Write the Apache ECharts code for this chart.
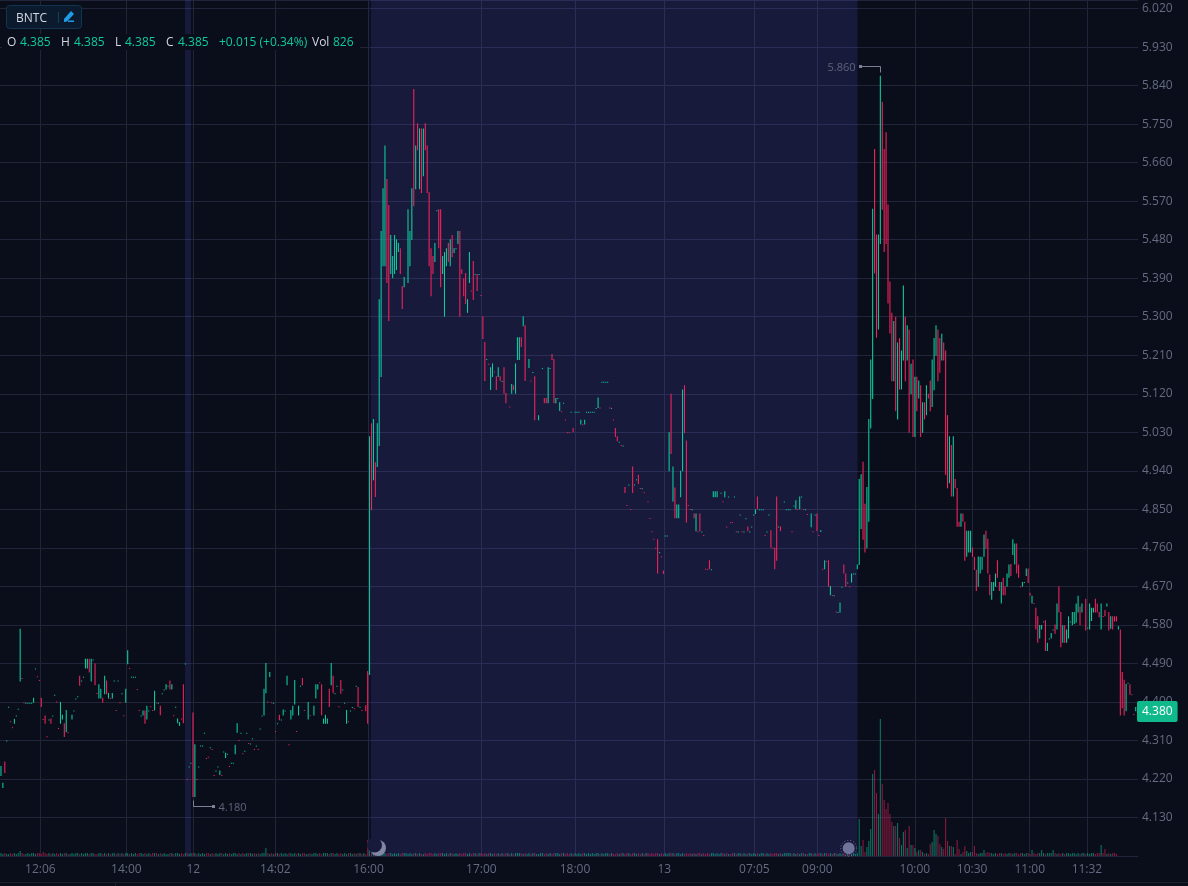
<!DOCTYPE html>
<html>
<head>
<meta charset="utf-8">
<title>BNTC</title>
<script src="https://cdn.jsdelivr.net/npm/echarts@6/dist/echarts.min.js"></script>
<style>
html, body { margin: 0; padding: 0; background: #0a0d1a; }
#chart { width: 1188px; height: 886px; }
</style>
</head>
<body>
<div id="chart"></div>
<script>
// bars are [bar number, open, close], open above close means a falling bar
const dayOneBars = [
  [0,4.227,4.25],[1,4.199,4.211],[2,4.261,4.234],[3,4.31,4.31],[4,4.389,4.389],[5,4.355,4.354],[6,4.341,4.34],[7,4.349,4.36],
  [8,4.368,4.368],[9,4.384,4.384],[10,4.448,4.571],[11,4.456,4.455],[12,4.399,4.398],[13,4.398,4.398],[14,4.398,4.398],[15,4.398,4.398],
  [16,4.398,4.398],[17,4.398,4.41],[18,4.478,4.478],[19,4.46,4.459],[20,4.451,4.45],[21,4.41,4.388],[22,4.36,4.359],[23,4.368,4.349],
  [24,4.32,4.319],[25,4.359,4.359],[26,4.361,4.349],[27,4.368,4.368],[28,4.417,4.417],[29,4.401,4.4],[30,4.339,4.338],[31,4.349,4.4],
  [32,4.359,4.37],[33,4.35,4.318],[34,4.329,4.381],[35,4.329,4.328],[37,4.359,4.37],[38,4.38,4.38],[39,4.408,4.408],[40,4.413,4.413],
  [41,4.461,4.438],[42,4.45,4.45],[43,4.459,4.459],[44,4.478,4.501],[45,4.478,4.501],[46,4.501,4.469],[47,4.448,4.501],[48,4.499,4.499],
  [49,4.49,4.439],[50,4.421,4.42],[51,4.408,4.441],[52,4.408,4.431],[53,4.41,4.398],[54,4.418,4.461],[55,4.45,4.418],[56,4.408,4.421],
  [57,4.409,4.408],[58,4.408,4.421],[59,4.45,4.45],[60,4.381,4.38],[61,4.45,4.45],[62,4.399,4.398],[63,4.42,4.42],[64,4.369,4.368],
  [65,4.398,4.431],[66,4.488,4.521],[67,4.479,4.478],[68,4.459,4.459],[69,4.459,4.459],[70,4.459,4.459],[71,4.43,4.429],[72,4.381,4.38],
  [73,4.368,4.368],[74,4.368,4.38],[75,4.38,4.349],[76,4.359,4.391],[77,4.38,4.38],[78,4.39,4.389],[79,4.381,4.38],[80,4.38,4.426],
  [81,4.399,4.398],[82,4.398,4.398],[83,4.391,4.369],[84,4.42,4.42],[85,4.429,4.429],[86,4.429,4.441],[87,4.438,4.438],[88,4.45,4.429],
  [89,4.429,4.441],[90,4.369,4.368],[91,4.389,4.389],[92,4.35,4.361],[93,4.344,4.353],[94,4.361,4.36],[95,4.441,4.35],[96,4.49,4.49],
  [97,4.22,4.219],[98,4.249,4.249],[99,4.258,4.258],[100,4.375,4.178],[101,4.178,4.301],[102,4.22,4.219],[103,4.249,4.249],[104,4.298,4.298],
  [105,4.298,4.298],[106,4.328,4.328],[107,4.269,4.268],[108,4.272,4.271],[109,4.294,4.294],[110,4.29,4.289],[111,4.229,4.228],[112,4.24,4.24],
  [113,4.249,4.249],[114,4.229,4.24],[115,4.229,4.228],[116,4.284,4.284],[117,4.269,4.281],[118,4.279,4.279],[119,4.25,4.249],[120,4.258,4.258],
  [121,4.258,4.258],[122,4.278,4.3],[123,4.328,4.35],[124,4.311,4.31],[125,4.328,4.328],[126,4.28,4.279],[127,4.286,4.286],[128,4.328,4.328],
  [129,4.304,4.303],[130,4.303,4.303],[131,4.315,4.315],[132,4.29,4.289],[133,4.298,4.298],[134,4.29,4.289],[135,4.338,4.338],[136,4.368,4.368],
  [137,4.368,4.431],[138,4.42,4.491],[139,4.401,4.4],[140,4.458,4.47],[141,4.399,4.398],[142,4.398,4.398],[143,4.332,4.331],[144,4.35,4.35],
  [145,4.37,4.357],[146,4.359,4.359],[147,4.368,4.382],[148,4.38,4.38],[149,4.439,4.461],[150,4.301,4.3],[151,4.359,4.381],[152,4.368,4.391],
  [153,4.394,4.451],[154,4.332,4.331],[155,4.368,4.391],[156,4.438,4.438],[157,4.456,4.439],[158,4.381,4.38],[160,4.359,4.4],[161,4.369,4.368],
  [163,4.368,4.391],[164,4.408,4.441],[165,4.429,4.441],[166,4.446,4.445],[167,4.441,4.369],[168,4.349,4.361],[169,4.349,4.37],[170,4.349,4.361],
  [171,4.431,4.388],[172,4.439,4.491],[173,4.461,4.42],[174,4.42,4.42],[175,4.438,4.438],[176,4.39,4.389],[177,4.451,4.419],[178,4.429,4.429],
  [179,4.398,4.398],[180,4.349,4.381],[181,4.355,4.354],[182,4.38,4.38],[183,4.388,4.388],[184,4.385,4.384],[185,4.438,4.438],[186,4.435,4.388],
  [187,4.389,4.389],[188,4.381,4.38],[190,4.392,4.378],[191,4.472,4.349]
];
const afterHoursBars = [
  [192,4.463,5.021],[193,5.051,4.848],[194,4.918,5.061],[195,4.96,4.879],[196,4.949,5.051],[197,4.998,5.341],[198,5.159,5.5],[199,5.418,5.6],
  [200,5.418,5.7],[201,5.622,5.379],[202,5.561,5.29],[203,5.4,5.491],[204,5.39,5.442],[205,5.4,5.491],[206,5.409,5.481],[207,5.451,5.472],
  [208,5.46,5.4],[209,5.372,5.318],[210,5.369,5.393],[212,5.379,5.551],[213,5.418,5.5],[214,5.479,5.6],[215,5.832,5.558],[216,5.598,5.7],
  [217,5.752,5.689],[218,5.598,5.74],[219,5.74,5.589],[220,5.628,5.74],[221,5.752,5.689],[222,5.7,5.589],[223,5.591,5.418],[224,5.46,5.348],
  [225,5.442,5.4],[226,5.428,5.472],[227,5.549,5.549],[228,5.551,5.46],[229,5.551,5.369],[230,5.4,5.442],[231,5.3,5.451],[232,5.418,5.46],
  [233,5.472,5.428],[234,5.418,5.481],[235,5.491,5.439],[236,5.449,5.46],[237,5.46,5.46],[238,5.47,5.5],[239,5.5,5.3],[240,5.411,5.4],
  [241,5.39,5.348],[242,5.402,5.33],[243,5.309,5.341],[244,5.379,5.451],[245,5.361,5.36],[246,5.43,5.339],[247,5.4,5.4],[248,5.4,5.36],
  [249,5.4,5.4],[250,5.351,5.35],[251,5.301,5.248],[252,5.241,5.15],[253,5.201,5.201],[254,5.19,5.189],[255,5.129,5.182],[256,5.159,5.191],
  [257,5.172,5.171],[258,5.161,5.129],[259,5.159,5.182],[260,5.161,5.15],[261,5.15,5.15],[262,5.182,5.12],[263,5.122,5.098],[265,5.09,5.089],
  [266,5.12,5.143],[267,5.14,5.129],[268,5.12,5.191],[269,5.199,5.252],[270,5.199,5.252],[271,5.252,5.229],[272,5.278,5.301],[273,5.28,5.15],
  [275,5.18,5.201],[276,5.151,5.15],[277,5.171,5.171],[278,5.161,5.058],[280,5.058,5.07],[282,5.18,5.18],[283,5.11,5.098],[284,5.11,5.098],
  [285,5.098,5.182],[286,5.18,5.18],[287,5.213,5.199],[288,5.201,5.098],[289,5.098,5.11],[290,5.11,5.11],[291,5.08,5.1],[292,5.079,5.078],
  [293,5.099,5.099],[294,5.06,5.059],[295,5.03,5.029],[296,5.03,5.029],[297,5.078,5.078],[298,5.04,5.03],[299,5.078,5.078],[300,5.078,5.078],
  [301,5.078,5.078],[302,5.048,5.059],[303,5.049,5.048],[304,5.048,5.059],[305,5.078,5.078],[306,5.078,5.078],[307,5.078,5.078],[308,5.078,5.078],
  [309,5.078,5.078],[310,5.087,5.087],[311,5.087,5.111],[312,5.088,5.087],[313,5.148,5.148],[314,5.148,5.148],[315,5.148,5.148],[316,5.148,5.148],
  [317,5.088,5.087],[318,5.087,5.087],[319,5.06,5.059],[320,5.04,5.019],[321,5.021,5.009],[322,5.008,5.008],[323,5,4.999],[324,4.999,4.999],
  [325,4.902,4.888],[326,4.86,4.859],[327,4.908,4.908],[328,4.851,4.85],[329,4.95,4.888],[330,4.908,4.908],[331,4.92,4.92],[332,4.931,4.909],
  [333,4.9,4.899],[334,4.899,4.899],[335,4.89,4.889],[337,4.869,4.868],[338,4.83,4.829],[339,4.799,4.798],[340,4.781,4.78],[341,4.76,4.759],
  [342,4.78,4.7],[343,4.75,4.75],[344,4.74,4.739],[345,4.707,4.699],[346,4.789,4.789],[347,4.789,4.789],[348,4.939,5.03],[349,5.12,4.979],
  [350,4.868,4.95],[351,4.901,4.829],[352,4.829,4.861],[353,4.829,4.861],[354,4.878,4.94],[355,4.939,5.13],[356,5.14,5.028],[357,5.011,4.819],
  [358,4.86,4.859],[359,4.851,4.85],[360,4.85,4.85],[361,4.84,4.829],[362,4.799,4.84],[363,4.799,4.798],[364,4.84,4.799],[365,4.798,4.798],
  [366,4.79,4.789],[367,4.711,4.71],[368,4.711,4.71],[369,4.731,4.71],[370,4.71,4.71],[371,4.878,4.892],[372,4.878,4.892],[373,4.878,4.892],
  [375,4.889,4.889],[376,4.869,4.868],[377,4.878,4.892],[378,4.81,4.809],[379,4.88,4.88],[380,4.82,4.819],[381,4.82,4.819],[382,4.88,4.88],
  [383,4.799,4.798],[384,4.798,4.798],[385,4.838,4.838],[386,4.799,4.798],[387,4.798,4.798],[388,4.829,4.829],[389,4.81,4.799],[390,4.798,4.798],
  [391,4.81,4.81],[392,4.838,4.838],[393,4.839,4.85],[394,4.88,4.85],[395,4.85,4.85],[396,4.85,4.85],[397,4.85,4.85],[398,4.79,4.789],
  [399,4.798,4.798],[400,4.838,4.838],[401,4.801,4.76],[402,4.76,4.759],[403,4.76,4.71],[404,4.88,4.73],[405,4.81,4.81],[406,4.81,4.799],
  [408,4.868,4.868],[409,4.85,4.85],[410,4.85,4.85],[411,4.85,4.85],[412,4.799,4.798],[413,4.859,4.859],[414,4.85,4.871],[415,4.851,4.85],
  [416,4.85,4.88],[417,4.88,4.88],[418,4.851,4.85],[419,4.85,4.85],[420,4.839,4.838],[422,4.808,4.84],[423,4.799,4.798],[424,4.838,4.838],
  [425,4.84,4.799],[426,4.79,4.789],[427,4.797,4.801],[428,4.711,4.71],[429,4.71,4.731],[430,4.729,4.728],[431,4.731,4.669],[432,4.649,4.671],
  [433,4.65,4.649],[434,4.649,4.649],[435,4.611,4.61],[436,4.61,4.61],[437,4.609,4.632],[438,4.669,4.669],[439,4.721,4.7],[440,4.7,4.669],
  [441,4.679,4.679],[442,4.67,4.669],[443,4.679,4.7],[444,4.7,4.7],[445,4.7,4.7],[446,4.71,4.721]
];
const dayTwoBars = [
  [447,4.72,4.921],[448,4.804,4.932],[449,4.961,4.779],[450,4.863,4.749],[451,4.759,4.902],[452,4.821,5.061],[453,5.039,5.2],[454,5.108,5.552],
  [455,5.692,5.401],[456,5.492,5.251],[457,5.27,5.492],[458,5.47,5.863],[459,5.802,5.55],[460,5.692,5.451],[461,5.731,5.47],[462,5.562,5.331],
  [463,5.382,5.261],[464,5.309,5.149],[465,5.149,5.29],[466,5.3,5.079],[467,5.06,5.24],[468,5.25,5.13],[469,5.13,5.221],[470,5.198,5.373],
  [471,5.3,5.149],[472,5.198,5.28],[473,5.27,5.029],[474,5.119,5.19],[475,5.2,5.019],[476,5.019,5.16],[477,5.16,5.079],[478,5.109,5.151],
  [479,5.14,5.019],[480,5.029,5.1],[481,5.1,5.06],[482,5.07,5.14],[483,5.12,5.109],[484,5.151,5.079],[485,5.089,5.2],[486,5.128,5.25],
  [487,5.209,5.28],[488,5.27,5.149],[489,5.25,5.169],[490,5.198,5.26],[491,5.24,5.198],[492,5.221,4.93],[493,5.07,4.899],[494,4.911,5.021],
  [495,5,4.88],[496,4.88,5.021],[497,4.921,4.899],[498,4.9,4.809],[499,4.821,4.809],[500,4.809,4.84],[501,4.84,4.821],[502,4.821,4.73],
  [503,4.739,4.8],[504,4.749,4.8],[505,4.749,4.8],[506,4.761,4.739],[507,4.739,4.708],[508,4.709,4.659],[509,4.669,4.74],[510,4.7,4.739],
  [511,4.709,4.739],[512,4.739,4.791],[513,4.8,4.758],[514,4.781,4.7],[515,4.698,4.649],[516,4.639,4.68],[517,4.659,4.68],[518,4.669,4.7],
  [519,4.731,4.69],[520,4.68,4.659],[521,4.63,4.68],[522,4.69,4.649],[523,4.67,4.649],[524,4.669,4.7],[525,4.69,4.721],[526,4.722,4.694],
  [527,4.743,4.78],[528,4.721,4.77],[529,4.77,4.7],[530,4.721,4.69],[531,4.67,4.669],[532,4.669,4.68],[533,4.68,4.68],[534,4.694,4.712],
  [535,4.712,4.678],[536,4.655,4.648],[537,4.63,4.648],[538,4.631,4.63],[539,4.62,4.569],[540,4.6,4.538],[541,4.548,4.58],[542,4.569,4.58],
  [543,4.588,4.588],[544,4.591,4.519],[545,4.519,4.538],[546,4.548,4.548],[547,4.548,4.561],[548,4.569,4.569],[549,4.581,4.559],[550,4.569,4.63],
  [551,4.67,4.609],[552,4.61,4.528],[553,4.538,4.579],[554,4.579,4.538],[555,4.538,4.569],[556,4.548,4.6],[557,4.588,4.588],[558,4.579,4.61],
  [559,4.582,4.61],[560,4.585,4.63],[561,4.609,4.648],[562,4.623,4.579],[563,4.609,4.63],[565,4.641,4.567],[566,4.574,4.574],[567,4.569,4.63],
  [568,4.589,4.62],[569,4.609,4.62],[570,4.641,4.609],[571,4.63,4.609],[572,4.61,4.598],[573,4.569,4.63],[574,4.601,4.6],[575,4.615,4.6],
  [576,4.623,4.63],[577,4.61,4.567],[578,4.571,4.6],[579,4.6,4.569],[580,4.6,4.588],[581,4.6,4.588],[582,4.569,4.577],[583,4.569,4.368],
  [584,4.47,4.385],[585,4.452,4.368],[586,4.378,4.442],[587,4.445,4.445],[588,4.441,4.417],[589,4.418,4.417],[590,4.372,4.371],[591,4.378,4.388]
];

// volume in lots, quietVolumes start at bar 0, activeVolumes at bar 447
const quietVolumes = [
  3,2,3,2,2,3,2,3,2,3, 5,3,2,2,3,2,3,3,2,3, 3,2,4,3,2,3,2,3,2,3, 2,3,2,3,3,2,2,3,2,3,
  3,2,3,2,3,3,2,3,3,2, 2,3,3,2,3,2,3,2,3,3, 2,3,2,3,2,3,3,2,3,2, 3,2,3,3,2,3,2,3,2,3,
  3,3,2,3,2,3,2,2,3,3, 2,3,3,2,3,2,3,3,2,3, 3,3,2,3,2,3,2,3,3,2, 3,2,3,2,3,3,2,3,2,3,
  2,3,3,2,3,2,3,2,3,3, 3,2,3,2,3,2,3,3,8,3, 2,3,2,3,3,2,3,2,3,2, 3,3,2,3,2,3,2,3,3,2,
  2,3,2,3,3,2,3,2,3,3, 3,2,3,3,2,3,2,3,2,3, 2,3,3,2,3,2,3,3,2,3, 2,16,8,3,2,3,3,2,3,2,
  3,2,3,3,2,3,2,3,2,3, 3,3,2,3,2,3,3,2,3,2, 2,3,2,3,3,2,3,2,3,3, 3,2,3,2,3,3,2,3,2,3,
  2,3,3,2,3,2,3,3,2,3, 3,2,3,2,3,3,2,3,2,3, 2,3,2,3,3,2,3,2,3,3, 3,3,2,3,2,3,2,3,3,2,
  2,3,3,2,3,2,3,2,3,3, 3,2,3,3,2,3,2,3,2,3, 2,3,2,3,3,2,3,2,3,2, 3,3,2,3,2,3,3,2,3,2,
  2,3,2,3,3,2,3,3,2,3, 3,2,3,2,3,2,3,3,2,3, 2,3,3,2,3,2,3,2,3,3, 3,2,3,3,2,3,2,3,2,3,
  2,3,2,3,3,2,3,2,3,2, 3,3,2,3,2,3,3,2,3,2, 2,3,3,2,3,3,2,3,2,3, 3,2,3,2,3,2,3,3,2,3,
  2,3,2,3,3,2,3,2,3,3, 3,3,2,3,2,3,2,3,3,2, 2,3,3,2,3,2,3,3,2,3, 3,2,3,2,3,3,2,3,2,3,
  2,3,3,2,3,2,3
];
const activeVolumes = [
  37,10,16,4,9,15,27,82,86,63, 42,137,72,56,47,53,42,34,30,30, 33,18,11,24,26,8,30,11,11,8,
  4,6,6,4,2,3,2,12,14,26, 22,20,12,9,7,38,15,10,10,9, 2,16,7,2,4,10,5,3,4,4,
  10,3,2,3,3,6,3,4,3,3, 2,3,2,3,3,2,3,2,3,3, 2,3,3,2,3,3,2,3,3,2,
  6,3,2,3,3,6,3,2,3,3, 3,6,3,2,3,2,3,2,3,3, 2,3,3,2,3,2,3,3,2,3, 2,3,3,2,3,3,11,3,7,2,
  3,2,3,3,2
];

const axisTop = 6.04;
const axisBottom = 4.04;
const priceStep = 0.09;
const tickBars = [20.5, 65.3, 100.2, 142.9, 191.4, 250.2, 299, 345.5, 392.4, 425.2, 476, 505.8, 535.8, 565.6];
const tickLabels = ['12:06', '14:00', '12', '14:02', '16:00', '17:00', '18:00', '13', '07:05', '09:00', '10:00', '10:30', '11:00', '11:32'];
const nightSpans = [[95.9, 99], [192.7, 446.1]];
const edgeSpans = [[191.2, 192.7]];
const lastPrice = 4.38;
const extremeBars = [100, 458];
const extremePrices = [4.18, 5.86];
const extremeLabels = ['4.180', '5.860'];

const upColor = '#0ecb9f';
const downColor = '#f0245f';
const bg = '#0a0d1a';
const gridColor = '#22253a';
const axisText = '#666b82';
const font = '12px "Open Sans"';

const allBars = dayOneBars.concat(afterHoursBars, dayTwoBars);
const barUp = {};
allBars.forEach(b => { barUp[b[0]] = b[2] >= b[1]; });
const volumeRows = quietVolumes.map((v, i) => [i, v]).concat(activeVolumes.map((v, i) => [447 + i, v]));

// one thin rect per bar, left on fractional pixels like the original
function renderBar(params, api) {
  const top = api.coord([api.value(0), Math.max(api.value(1), api.value(2))]);
  const bottom = api.coord([api.value(0), Math.min(api.value(1), api.value(2))]);
  const w = api.size([1, 0])[0] * 0.56;
  return {
    type: 'rect',
    shape: { x: top[0] - w / 2, y: top[1], width: w, height: Math.max(bottom[1] - top[1], 1) },
    style: { fill: api.value(2) >= api.value(1) ? upColor : downColor }
  };
}

function renderVolume(params, api) {
  const i = api.value(0);
  const top = api.coord([i, api.value(1)]);
  const base = api.coord([i, 0]);
  const w = api.size([1, 0])[0] * 0.56;
  return {
    type: 'rect',
    shape: { x: top[0] - w / 2, y: top[1], width: w, height: base[1] - top[1] },
    style: { fill: barUp[i] === false ? downColor : upColor, opacity: 0.55 }
  };
}

// little hook from the bar with the day's extreme to its price label
function renderExtreme(params, api) {
  const p = api.coord([api.value(0), api.value(1)]);
  const isLow = params.dataIndex === 0;
  const lineColor = '#7b8096';
  const x = Math.round(p[0]) + 0.5;
  const y = isLow ? Math.round(p[1]) + 10.5 : Math.round(p[1]) - 10.5;
  const endX = isLow ? x + 20 : x - 20;
  return {
    type: 'group',
    children: [
      { type: 'polyline', shape: { points: [[x, isLow ? y - 6 : y + 6], [x, y], [endX, y]] }, style: { stroke: lineColor, fill: null, lineWidth: 1 } },
      { type: 'rect', shape: { x: endX - 1.5, y: y - 1.5, width: 3, height: 3 }, style: { fill: lineColor } },
      { type: 'text', style: { text: extremeLabels[params.dataIndex], x: isLow ? endX + 5 : endX - 5, y: y + 1, fill: '#5f6479', font: '11px "Open Sans"', textAlign: isLow ? 'left' : 'right', textVerticalAlign: 'middle' } }
    ]
  };
}

const legendRow = [
  ['O', 7, '#d4d7e2'], ['4.385', 20, upColor], ['H', 61, '#d4d7e2'], ['4.385', 74, upColor],
  ['L', 115, '#d4d7e2'], ['4.385', 125, upColor], ['C', 166, '#d4d7e2'], ['4.385', 178, upColor],
  ['+0.015 (+0.34%)', 219, upColor], ['Vol', 312, '#d4d7e2'], ['826', 333, upColor]
];

const chart = echarts.init(document.getElementById('chart'));
chart.setOption({
  backgroundColor: bg,
  animation: false,
  textStyle: { fontFamily: 'Open Sans' },
  grid: { left: 0, right: 50, top: 0, bottom: 30 },
  xAxis: {
    type: 'value',
    min: -0.5,
    max: 592.2,
    axisLine: { show: false },
    axisTick: { show: false, customValues: tickBars },
    axisLabel: {
      color: axisText,
      fontSize: 12,
      margin: 8,
      customValues: tickBars,
      formatter: v => tickLabels[tickBars.indexOf(v)] || ''
    },
    splitLine: { show: true, lineStyle: { color: gridColor, width: 1 } }
  },
  yAxis: [
    {
      type: 'value',
      position: 'right',
      min: axisBottom,
      max: axisTop,
      interval: priceStep,
      axisLine: { show: false },
      axisTick: { show: false },
      axisLabel: {
        color: axisText,
        fontSize: 12,
        margin: 4,
        padding: [2, 0, 0, 0],
        showMinLabel: false,
        showMaxLabel: false,
        formatter: v => v.toFixed(3)
      },
      splitLine: { show: true, lineStyle: { color: gridColor, width: 1 } }
    },
    { type: 'value', min: 0, max: 856, show: false, splitLine: { show: false } }
  ],
  series: [
    {
      type: 'custom',
      name: 'Volume',
      yAxisIndex: 1,
      silent: true,
      progressive: 0,
      renderItem: renderVolume,
      encode: { x: 0, y: 1 },
      data: volumeRows
    },
    {
      type: 'custom',
      name: 'BNTC',
      yAxisIndex: 0,
      silent: true,
      progressive: 0,
      renderItem: renderBar,
      encode: { x: 0, y: [1, 2] },
      data: allBars,
      markArea: {
        silent: true,
        itemStyle: { color: 'rgba(75,79,191,0.2)' },
        data: nightSpans.map(s => [{ xAxis: s[0] }, { xAxis: s[1] }])
          .concat(edgeSpans.map(s => [{ xAxis: s[0], itemStyle: { color: 'rgba(75,79,191,0.05)' } }, { xAxis: s[1] }]))
      },
      markLine: {
        silent: true,
        symbol: 'none',
        lineStyle: { color: 'rgba(0,0,0,0)', width: 0 },
        label: {
          show: true,
          position: 'end',
          distance: 4,
          offset: [-5, 1],
          formatter: lastPrice.toFixed(3),
          color: '#fff',
          fontSize: 12,
          backgroundColor: '#0fb98c',
          padding: [5, 5, 4, 5],
          borderRadius: 2
        },
        data: [{ yAxis: lastPrice }]
      }
    },
    {
      type: 'custom',
      name: 'Extremes',
      yAxisIndex: 0,
      silent: true,
      renderItem: renderExtreme,
      encode: { x: 0, y: 1 },
      data: extremeBars.map((b, i) => [b, extremePrices[i]])
    }
  ],
  graphic: {
    elements: [
      // strip behind the ohlc row, hides the grid there
      { type: 'rect', z: 100, shape: { x: 2, y: 34, width: 358, height: 16 }, style: { fill: bg } },
      { type: 'rect', z: 100, shape: { x: 6.5, y: 5.5, width: 75, height: 23, r: 3 }, style: { fill: '#0c1a2d', stroke: '#12344c', lineWidth: 1 } },
      { type: 'text', z: 101, style: { text: 'BNTC', x: 16, y: 19, fill: '#d4d7e2', font: font, textVerticalAlign: 'middle' } },
      { type: 'line', z: 101, shape: { x1: 58.5, y1: 12, x2: 58.5, y2: 23 }, style: { stroke: '#14405c', lineWidth: 1 } },
      { type: 'polygon', z: 101, shape: { points: [[64, 19], [71, 11], [74, 14], [67, 21.5], [64, 22]] }, style: { fill: '#1e9ce8' } },
      { type: 'rect', z: 101, shape: { x: 68, y: 20.5, width: 6, height: 1.5 }, style: { fill: '#1e9ce8' } },
      ...legendRow.map(t => ({ type: 'text', z: 101, style: { text: t[0], x: t[1], y: 43, fill: t[2], font: font, textVerticalAlign: 'middle' } })),
      // moon and sun session marks
      { type: 'circle', z: 90, shape: { cx: 378, cy: 848, r: 8 }, style: { fill: '#8287a3' } },
      { type: 'circle', z: 91, shape: { cx: 374.5, cy: 845, r: 7.5 }, style: { fill: '#171a3b' } },
      { type: 'circle', z: 90, shape: { cx: 848.7, cy: 848.3, r: 6 }, style: { fill: '#70749a' } },
      { type: 'circle', z: 90, shape: { cx: 848.7, cy: 848.3, r: 8 }, style: { fill: null, stroke: '#70749a', lineWidth: 1, lineDash: [1, 2] } },
      // footer edge under the time axis
      { type: 'line', z: 90, shape: { x1: 0, y1: 882.5, x2: 1188, y2: 882.5 }, style: { stroke: '#1c1f2e', lineWidth: 1 } },
      { type: 'line', z: 90, shape: { x1: 115.5, y1: 882, x2: 115.5, y2: 886 }, style: { stroke: '#1c1f2e', lineWidth: 1 } }
    ]
  }
});
</script>
</body>
</html>
